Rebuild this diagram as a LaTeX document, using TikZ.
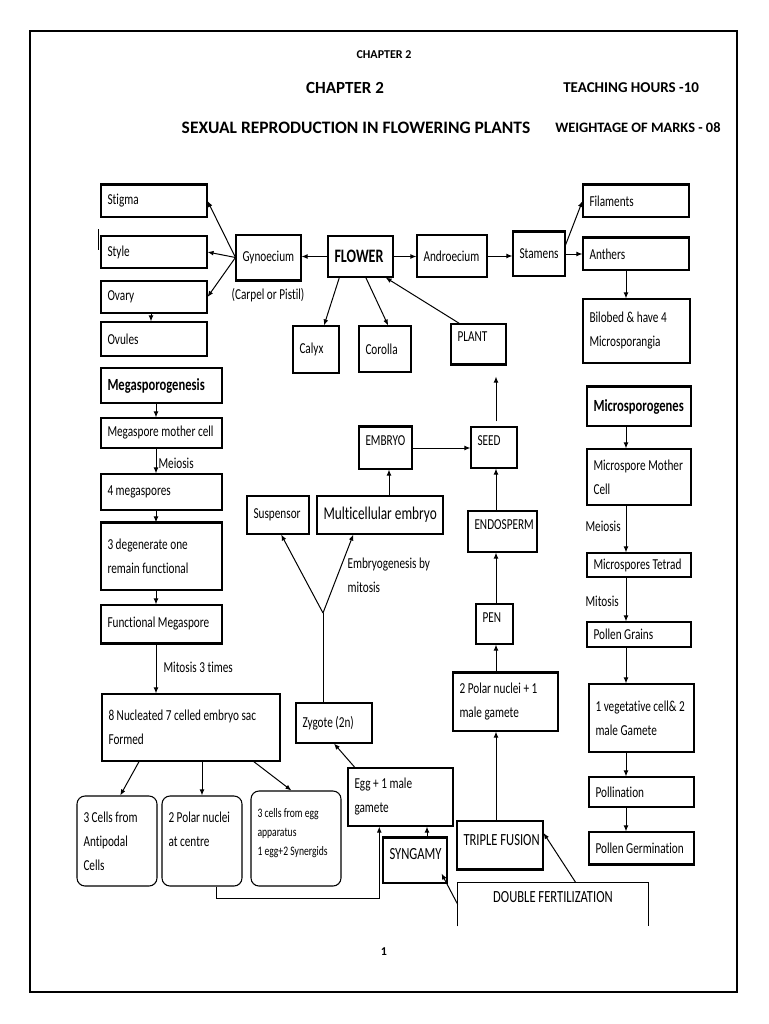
\documentclass[tikz,border=0pt]{standalone}
\usepackage{fontspec}
\setmainfont{Carlito}[Ligatures=NoCommon]
\newfontfamily\nf{Carlito}[FakeStretch=0.74,Ligatures=NoCommon]
\usetikzlibrary{calc,arrows.meta}
\newdimen\px \px=0.75pt
\newcommand\tp[1]{\rule{0pt}{#1\px}}
\newcommand\fN{\nf\fontsize{11.4pt}{18pt}\selectfont}
\newcommand\fS{\nf\fontsize{9.75pt}{14.25pt}\selectfont}
\newcommand\fL{\nf\fontsize{12.75pt}{18pt}\selectfont}
\newcommand\fLB{\nf\bfseries\fontsize{12.75pt}{18pt}\selectfont}
\newcommand\fM{\nf\fontsize{13.5pt}{18pt}\selectfont}
\newcommand\fF{\nf\bfseries\fontsize{14.25pt}{18pt}\selectfont}
\newcommand\hA{\bfseries\fontsize{9pt}{11pt}\selectfont}
\newcommand\hB{\bfseries\fontsize{12.75pt}{15pt}\selectfont}
\newcommand\hD{\bfseries\fontsize{13.1pt}{15pt}\selectfont}
\newcommand\hC{\bfseries\fontsize{11.25pt}{14pt}\selectfont}
\newcommand\hE{\bfseries\fontsize{10.8pt}{14pt}\selectfont}
\newcommand\bx[8]{%
 \pgfmathsetlengthmacro\bxw{(#4-#2)*\px}%
 \pgfmathsetlengthmacro\bxh{(#5-#3)*\px}%
 \pgfmathsetlengthmacro\bxtw{(#4-#2-8)*\px}%
 \pgfmathsetlengthmacro\bxth{(#5-#3-8)*\px}%
 \node[box,minimum width=\bxw,minimum height=\bxh,#7] (#1) at ({(#2+#4)/2},{(#3+#5)/2}) {\hspace*{5\px}\parbox[c][\bxth][#6]{\bxtw}{\raggedright #8}};%
}
\tikzset{
 box/.style={draw, rectangle, line width=0.8pt, inner sep=0pt, font=\fN},
 rbox/.style={box, rounded corners=8\px},
 arr/.style={line width=0.75pt, -{Latex[length=4.5pt,width=3.6pt]}},
 ln/.style={line width=0.75pt},
 thk/.style={line width=1.7pt},
 lbl/.style={font=\fN, inner sep=1pt}
}
\begin{document}
\begin{tikzpicture}[x=0.75pt,y=-0.75pt]
\useasboundingbox (0,0) rectangle (768,1024);
\draw[line width=1.1pt] (30,31) rectangle (737,992);

% headers
\node[font=\hA] (h1) at (384,55) {CHAPTER 2};
\node[font=\hB] (h2) at (345,88) {CHAPTER 2};
\node[font=\hC, anchor=west, inner sep=0pt] (h3) at (563,88) {TEACHING HOURS -10};
\node[font=\hD] (h4) at (356,128) {SEXUAL REPRODUCTION IN FLOWERING PLANTS};
\node[font=\hE, anchor=west, inner sep=0pt] (h5) at (555,128) {WEIGHTAGE OF MARKS - 08};
\node[font=\hA] (pg) at (384,952) {1};

% left column
\bx{stigma}{101}{185}{207}{217}{c}{}{Stigma}
\bx{style}{101}{236}{207}{268}{c}{}{Style}
\bx{ovary}{101}{281}{207}{313}{c}{}{Ovary}
\bx{ovules}{101}{322}{207}{356}{c}{}{Ovules}
\bx{mega}{101}{368}{222}{403}{c}{font=\fLB}{Megasporogenesis}
\bx{mmc}{101}{418}{222}{448}{c}{}{Megaspore mother cell}
\bx{four}{101}{474}{222}{510}{c}{}{4 megaspores}
\bx{degen}{101}{523}{222}{590}{c}{}{3 degenerate one\\remain functional}
\bx{func}{101}{605}{222}{643}{c}{}{Functional Megaspore}
\bx{nuc8}{102}{694}{280}{761}{c}{}{8 Nucleated 7 celled embryo sac\\Formed}
\bx{anti}{77}{796}{157}{886}{c}{rbox}{3 Cells from\\Antipodal\\Cells}
\bx{polar}{162}{796}{242}{886}{t}{rbox}{\tp{22}2 Polar nuclei\\at centre}
\bx{eggapp}{251}{791}{341}{886}{t}{rbox,font=\fS}{\tp{22}3 cells from egg\\apparatus\\1 egg+2 Synergids}

% flower row
\bx{gyn}{236}{235}{301}{280}{c}{}{Gynoecium}
\bx{flower}{328}{236}{393}{277}{c}{font=\fF}{FLOWER}
\bx{andro}{417}{235}{487}{277}{c}{}{Androecium}
\bx{stamens}{513}{232}{565}{276}{c}{}{Stamens}
\bx{filaments}{583}{185}{689}{217}{c}{}{Filaments}
\bx{anthers}{583}{238}{689}{270}{c}{}{Anthers}
\bx{bilobed}{583}{299}{690}{363}{c}{}{Bilobed \& have 4\\Microsporangia}
\bx{calyx}{293}{326}{339}{373}{c}{}{Calyx}
\bx{corolla}{359}{326}{411}{372}{c}{}{Corolla}
\bx{plant}{451}{324}{506}{364}{t}{}{\tp{13}PLANT}

% middle
\bx{embryo}{359}{427}{412}{469}{t}{}{\tp{14}EMBRYO}
\bx{seed}{471}{427}{517}{468}{t}{}{\tp{14}SEED}
\bx{susp}{247}{496}{309}{534}{c}{}{Suspensor}
\bx{multi}{317}{496}{443}{534}{c}{font=\fM}{Multicellular embryo}
\bx{endo}{468}{511}{537}{552}{t}{}{\tp{14}ENDOSPERM}
\bx{pen}{476}{604}{513}{644}{t}{}{\tp{14}PEN}
\bx{pn1}{453}{673}{558}{731}{c}{}{2 Polar nuclei + 1\\male gamete}
\bx{zygote}{296}{703}{372}{743}{c}{}{Zygote (2n)}
\bx{egg}{348}{768}{453}{826}{c}{}{Egg + 1 male\\gamete}
\bx{syngamy}{383}{838}{447}{883}{t}{font=\fL}{\tp{17}SYNGAMY}
\bx{triple}{457}{821}{543}{869}{t}{font=\fL}{\tp{20}TRIPLE FUSION}
\node[draw=none, inner sep=0pt, minimum width=190\px, minimum height=43\px, font=\fL] (dbl) at (553,904.5) {\parbox[c][35\px][t]{182\px}{\centering\tp{15}DOUBLE FERTILIZATION}};
\draw[box] (dbl.south west) -- (dbl.north west) -- (dbl.north east) -- (dbl.south east);

% right column
\bx{micro}{587}{387}{691}{426}{c}{font=\fLB}{Microsporogenes}
\bx{mmc2}{587}{449}{691}{505}{c}{}{Microspore Mother\\Cell}
\bx{tetrad}{587}{553}{691}{577}{c}{}{Microspores Tetrad}
\bx{pollen}{587}{622}{691}{647}{c}{}{Pollen Grains}
\bx{veg}{589}{684}{694}{752}{c}{}{1 vegetative cell\& 2\\male Gamete}
\bx{polli}{589}{777}{694}{807}{c}{}{Pollination}
\bx{germ}{589}{832}{694}{864}{c}{}{Pollen Germination}

% thick edges
\foreach \n in {stigma,filaments,anthers,stamens,embryo,micro,degen,pn1,syngamy}
  \draw[thk] (\n.north west) -- (\n.north east);
\foreach \n in {gyn,plant,func,germ,triple}
  \draw[thk] (\n.south west) -- (\n.south east);
\draw[line width=0.6pt] (98,229) -- (98,250);

% labels
\node[lbl] (carpel) at (268,295) {(Carpel or Pistil)};
\node[lbl, anchor=west] (meio1) at (157,463) {Meiosis};
\node[lbl, anchor=west] (mit3) at (162,667) {Mitosis 3 times};
\node[lbl, anchor=west, align=left] (embg) at (346,575) {Embryogenesis by\\mitosis};
\node[lbl, anchor=west] (meio2) at (584,526) {Meiosis};
\node[lbl, anchor=west] (mit2) at (584,601) {Mitosis};

% column coordinates
\coordinate (cL) at (156,0);
\coordinate (cO) at (151,0);
\coordinate (cR) at (626,0);
\coordinate (cS) at (496,0);
\coordinate (cE) at (389,0);
\coordinate (cG) at (427,0);
\coordinate (cP) at (216,898);
\coordinate (yj) at (323,613);

% flower connectors
\draw[arr] (flower.west) -- (flower.west -| gyn.east);
\draw[arr] (flower.east) -- (flower.east -| andro.west);
\draw[arr] (andro.east) -- (andro.east -| stamens.west);
\draw[arr] (gyn.west) -- (stigma.east);
\draw[arr] (gyn.west) -- (style.east);
\draw[arr] (gyn.west) -- (ovary.east);
\draw[arr] (ovary.south -| cO) -- (ovules.north -| cO);
\draw[arr] ($(flower.south west)!0.18!(flower.south east)$) -- ($(calyx.north west)!0.67!(calyx.north east)$);
\draw[arr] ($(flower.south west)!0.58!(flower.south east)$) -- ($(corolla.north west)!0.56!(corolla.north east)$);
\draw[arr] ($(plant.north west)!0.16!(plant.north east)$) -- ($(flower.south west)!0.88!(flower.south east)$);
\draw[arr] ($(stamens.north east)!0.3!(stamens.south east)$) -- (filaments.west);
\draw[arr] (stamens.east) -- (stamens.east -| anthers.west);
\draw[arr] (anthers.south -| cR) -- (bilobed.north -| cR);

% left column connectors
\draw[arr] (mega.south -| cL) -- (mmc.north -| cL);
\draw[arr] (mmc.south -| cL) -- (four.north -| cL);
\draw[arr] (four.south -| cL) -- (degen.north -| cL);
\draw[arr] (degen.south -| cL) -- (func.north -| cL);
\draw[arr] (func.south -| cL) -- (nuc8.north -| cL);
\draw[arr] ($(nuc8.south west)!0.21!(nuc8.south east)$) -- ($(anti.north west)!0.54!(anti.north east)$);
\draw[arr] (polar.north |- nuc8.south) -- (polar.north);
\draw[arr] ($(nuc8.south west)!0.85!(nuc8.south east)$) -- ($(eggapp.north west)!0.45!(eggapp.north east)$);

% right column connectors
\draw[arr] (micro.south -| cR) -- (mmc2.north -| cR);
\draw[arr] (mmc2.south -| cR) -- (tetrad.north -| cR);
\draw[arr] (tetrad.south -| cR) -- (pollen.north -| cR);
\draw[arr] (pollen.south -| cR) -- (veg.north -| cR);
\draw[arr] (veg.south -| cR) -- (polli.north -| cR);
\draw[arr] (polli.south -| cR) -- (germ.north -| cR);

% middle connectors
\draw[arr] (multi.north -| cE) -- (embryo.south -| cE);
\draw[arr] (embryo.east) -- (embryo.east -| seed.west);
\draw[arr, shorten <=5\px, shorten >=12\px] (seed.north -| cS) -- (plant.south -| cS);
\draw[arr] (endo.north -| cS) -- (seed.south -| cS);
\draw[arr] (pen.north -| cS) -- (endo.south -| cS);
\draw[arr] (pn1.north -| cS) -- (pen.south -| cS);
\draw[arr] (triple.north -| cS) -- (pn1.south -| cS);
\draw[arr] (yj) -- ($(susp.south west)!0.55!(susp.south east)$);
\draw[arr] (yj) -- ($(multi.south west)!0.29!(multi.south east)$);
\draw[ln] (zygote.north -| yj) -- (yj);
\draw[arr] ($(egg.north west)!0.07!(egg.north east)$) -- (zygote.south);
\draw[arr] (syngamy.north -| cG) -- (egg.south -| cG);
\draw[arr] (polar.south -| cP) -- (cP) -| ($(egg.south west)!0.3!(egg.south east)$);
\draw[arr] (dbl.west) -- ($(syngamy.south east)+(-6,-10)$);
\draw[arr] ($(dbl.north west)!0.62!(dbl.north east)$) -- ($(triple.east)+(0,-12)$);
\end{tikzpicture}
\end{document}
